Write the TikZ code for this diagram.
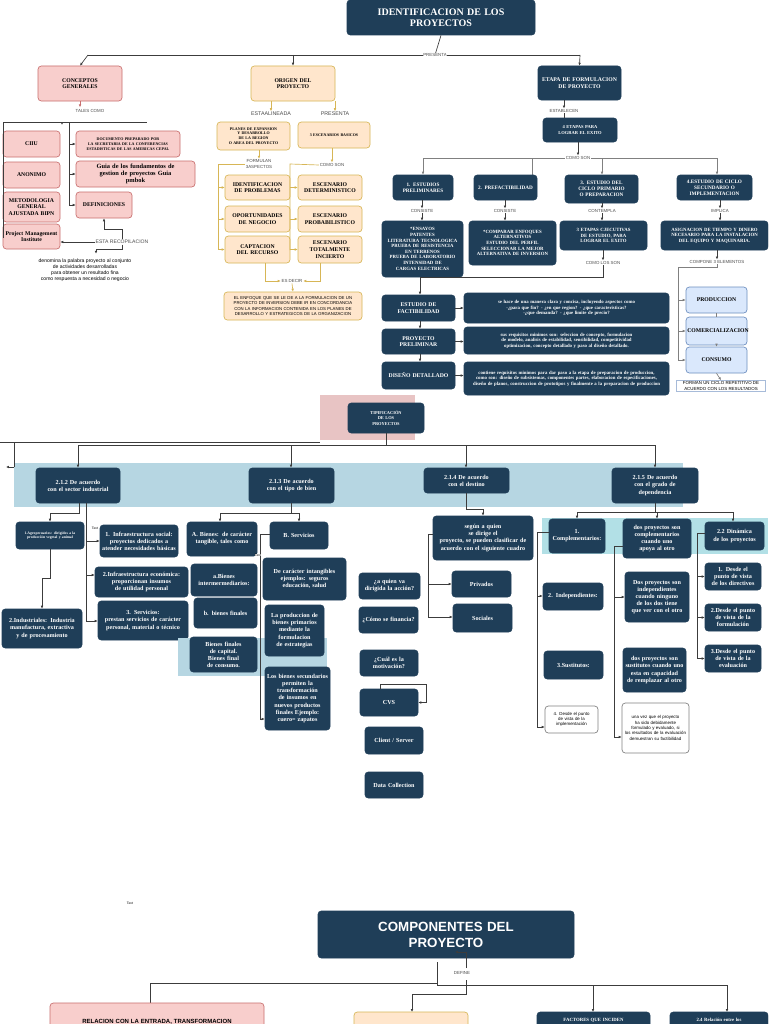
\documentclass[tikz,border=0pt]{standalone}
\usepackage{fontspec}
\setmainfont{Liberation Serif}
\setsansfont{Liberation Sans}
\usetikzlibrary{arrows.meta}
\hyphenpenalty=10000 \exhyphenpenalty=10000
\definecolor{dk}{RGB}{31,62,88}
\definecolor{pkf}{RGB}{248,206,204}
\definecolor{pkd}{RGB}{200,110,110}
\definecolor{pef}{RGB}{255,230,204}
\definecolor{ped}{RGB}{215,182,86}
\definecolor{lbf}{RGB}{218,232,252}
\definecolor{lbd}{RGB}{108,142,191}
\definecolor{band}{RGB}{182,214,226}
\definecolor{teal}{RGB}{178,224,230}
\definecolor{pkbg}{RGB}{232,196,196}
\definecolor{ln}{RGB}{60,60,60}
\definecolor{yl}{RGB}{215,182,86}
\tikzset{
 base/.style={rounded corners=2.5pt, inner sep=1pt, align=center, font=\bfseries\fontsize{4.3}{5}\selectfont, line width=0.5pt},
 dk/.style={base, fill=dk, draw=dk, text=white},
 pk/.style={base, fill=pkf, draw=pkd, text=black},
 pe/.style={base, fill=pef, draw=ped, text=black},
 lb/.style={base, fill=lbf, draw=lbd, text=black},
 wh/.style={base, fill=white, draw=gray, text=black, font=\sffamily\fontsize{3.3}{4}\selectfont},
 lbl/.style={font=\sffamily\fontsize{3.3}{4}\selectfont, text=black!70, inner sep=0.5pt, fill=white},
 arr/.style={-{Latex[length=2.2pt,width=2pt]}, draw=ln, line width=0.5pt},
 ln/.style={draw=ln, line width=0.5pt},
 ya/.style={-{Latex[length=2.2pt,width=2pt]}, draw=yl, line width=0.5pt},
 yn/.style={draw=yl, line width=0.5pt},
 fm/.style={font=\bfseries\fontsize{4.6}{5.3}\selectfont},
 fs/.style={font=\bfseries\fontsize{3.6}{4.2}\selectfont},
 fx/.style={font=\bfseries\fontsize{3.9}{4.6}\selectfont},
}
\newcommand\bx[7]{%
 \pgfmathsetmacro\bxw{(#5-#3)*0.75}\pgfmathsetmacro\bxh{(#6-#4)*0.75}\pgfmathsetmacro\bxt{(#5-#3)*0.75-2}%
 \node[#2, minimum width=\bxw pt, minimum height=\bxh pt, text width=\bxt pt] (#1) at ({(#3+#5)/2},{(#4+#6)/2}) {#7};}
\begin{document}
\begin{tikzpicture}[x=0.75pt,y=-0.75pt]
\useasboundingbox (0,0) rectangle (768,1024);
\clip (0,0) rectangle (768,1024);
\fill[white] (0,0) rectangle (768,1024);
% ---------- top ----------
\bx{t}{dk,font=\bfseries\fontsize{7.5}{8.5}\selectfont}{347}{0}{535}{35}{IDENTIFICACION DE LOS\\PROYECTOS}
\bx{cg}{pk}{38}{66}{122}{101}{CONCEPTOS\\GENERALES}
\bx{op}{pe}{251}{66}{335}{101}{ORIGEN DEL\\PROYECTO}
\bx{ef}{dk}{538}{66}{621}{100}{ETAPA DE FORMULACION\\DE PROYECTO}
\coordinate (pr) at (435,55);
\draw[ln] (t.south) -- (pr);
\draw[ln] (88,55) -- (580,55);
\draw[arr] (88,55) -- (cg.north);
\draw[arr] (293,55) -- (op.north);
\draw[arr] (580,55) -- (ef.north);
\node[lbl] at (435,55) {PRESENTA};
% conceptos generales
\node[lbl] (tc) at (90,111) {TALES COMO};
\draw[arr,draw=pkd] (cg.south) -- ++(0,6);
\draw[ln] (3,122) -- (147,122);
\draw[arr] (62,122) -- ++(0,3);
\bx{c1}{pk}{3}{131}{60}{157}{CIIU}
\bx{c2}{pk}{3}{162}{60}{188}{ANONIMO}
\bx{c3}{pk}{3}{192}{60}{222}{METODOLOGIA GENERAL AJUSTADA BIPN}
\bx{c4}{pk}{3}{224}{60}{249}{Project Management Institute}
\bx{d1}{pk,font=\bfseries\fontsize{3}{3.6}\selectfont}{76}{131}{180}{157}{DOCUMENTO PREPARADO POR\\LA SECRETARIA DE LA CONFERENCIAS\\ESTADISTICAS DE LAS AMERICAS CEPAL}
\bx{d2}{pk,font=\bfseries\fontsize{4.8}{5.5}\selectfont}{76}{161}{195}{187}{Guia de los fundamentos de gestion de proyectos Guia\\pmbok}
\bx{d3}{pk}{76}{192}{132}{218}{DEFINICIONES}
\draw[ln] (3,122) -- (3,238);
\draw[ln] (69,122) -- (69,205);
\foreach \n in {d1,d2,d3} \draw[arr] (69,0 |- \n.west) -- (\n.west);
\node[lbl,font=\sffamily\fontsize{3.8}{4.5}\selectfont] (er) at (122,242) {ESTA RECOPILACION};
\draw[arr] (er.west) -- (c4.east |- er.west);
\draw[arr] (er.north) |- ++(-18,-10) -- (d3.south -| 104,0) ;
\draw[arr] (er.south) |- ++(-26,5) -- ++(0,4);
\node[font=\sffamily\fontsize{3.8}{4.6}\selectfont, align=center, inner sep=0] (dp) at (85,270) {denomina la palabra proyecto  al conjunto\\de actividades desarrolladas\\para obtener un resultado fina\\como respuesta a necesidad o negocio};
% origen
\node[lbl,font=\sffamily\fontsize{4}{4.5}\selectfont] (ea) at (271,114) {ESTAALINEADA};
\node[lbl,font=\sffamily\fontsize{4}{4.5}\selectfont] (pr2) at (335,114) {PRESENTA};
\draw[ya] (271,101) -- (ea.north);
\draw[ya] (335,101) -- (pr2.north);
\bx{o1}{pe,font=\bfseries\fontsize{3}{3.6}\selectfont}{217}{122}{290}{150}{PLANES DE EXPANSION\\Y DESARROLLO\\DE LA REGION\\O AREA DEL PROYECTO}
\bx{o2}{pe,font=\bfseries\fontsize{3}{3.6}\selectfont}{298}{122}{370}{148}{3 ESCENARIOS BASICOS}
\node[lbl,align=center] (fo) at (259,164) {FORMULAN\\3ASPECTOS};
\node[lbl] (cs) at (332,165) {COMO SON};
\draw[ya] (o1.south -| fo.north) -- (fo.north);
\draw[ya] (o2.south -| cs.north) -- (cs.north);
\bx{a1}{pe}{225}{175}{290}{200}{IDENTIFICACION DE PROBLEMAS}
\bx{a2}{pe}{225}{206}{290}{232}{OPORTUNIDADES DE NEGOCIO}
\bx{a3}{pe}{225}{236}{290}{263}{CAPTACION DEL RECURSO}
\bx{e1}{pe}{298}{175}{362}{200}{ESCENARIO DETERMINISTICO}
\bx{e2}{pe}{298}{206}{362}{232}{ESCENARIO PROBABILISTICO}
\bx{e3}{pe}{298}{236}{362}{263}{ESCENARIO TOTALMENTE INCIERTO}
\draw[yn] (fo.west) -- (218,164) -- (218,250);
\draw[yn] (cs.west) -- (290,164) -- (290,250);
\foreach \n in {a1,a2,a3} \draw[ya] (218,0 |- \n.west) -- (\n.west);
\foreach \n in {e1,e2,e3} \draw[ya] (290,0 |- \n.west) -- (\n.west);
\node[lbl] (ed) at (292,281) {ES DECIR};
\draw[ya] (265,263) |- (ed.west);
\draw[ya] (320,263) |- (ed.east);
\bx{ez}{pe,font=\sffamily\fontsize{3.2}{3.9}\selectfont}{224}{292}{362}{320}{EL ENFOQUE QUE SE LE DE A LA FORMULACION DE UN PROYECTO DE INVERSION DEBE IR EN CONCORDANCIA CON LA INFORMACION CONTENIDA EN LOS PLANES DE DESARROLLO Y ESTRATEGICOS DE LA ORGANIZACION}
\draw[ya] (ed.south) -- (ez.north);
% etapa
\node[lbl] (es) at (564,111) {ESTABLECEN};
\draw[arr] (ef.south -| es.north) -- (es.north);
\bx{e4}{dk,font=\bfseries\fontsize{3.4}{4.1}\selectfont}{543}{118}{617}{142}{4 ETAPAS  PARA\\LOGRAR EL EXITO}
\draw[ln] (es.south) -- (e4.north -| es.south);
\node[lbl] (cso) at (578,158) {COMO SON};
\draw[arr] (e4.south -| cso.north) -- (cso.north);
\draw[ln,draw=gray] (423,158) -- (cso.west) (cso.east) -- (717,158);
\draw[ln,draw=gray] (532,158) -- (532,175);
\bx{s1}{dk,fx}{393}{175}{453}{200}{1. ESTUDIOS PRELIMINARES}
\bx{s2}{dk,fx}{474}{175}{537}{200}{2. PREFACTIBILIDAD}
\bx{s3}{dk,fx}{565}{175}{638}{203}{3. ESTUDIO DEL CICLO PRIMARIO O PREPARACION}
\bx{s4}{dk,fx}{677}{175}{752}{200}{4.ESTUDIO DE CICLO SECUNDARIO O IMPLEMENTACION}
\draw[arr,draw=gray] (423,158) -- (s1.north -| 423,0);
\draw[arr,draw=gray] (602,158) -- (s3.north -| 602,0);
\draw[arr,draw=gray] (717,158) -- (s4.north -| 717,0);
\node[lbl] (k1) at (422,211) {CONSISTE};
\node[lbl] (k2) at (505,211) {CONSISTE};
\node[lbl] (k3) at (602,211) {CONTEMPLA};
\node[lbl] (k4) at (720,211) {IMPLICA};
\draw[arr] (s1.south -| k1) -- (k1.north);
\draw[arr] (s2.south -| k2) -- (k2.north);
\draw[arr] (s3.south -| k3) -- (k3.north);
\draw[arr] (s4.south -| k4) -- (k4.north);
\bx{q1}{dk,fs}{382}{221}{463}{277}{*ENSAYOS\\*PATENTES\\*LITERATURA TECNOLOGICA\\*PRUEBA DE RESISTENCIA EN TERRENOS\\*PRUEBA DE LABORATORIO\\*INTENSIDAD DE CARGAS ELECTRICAS}
\bx{q2}{dk,fs}{469}{221}{556}{265}{*COMPARAR ENFOQUES ALTERNATIVOS\\*ESTUDIO DEL PERFIL\\*SELECCIONAR LA MEJOR ALTERNATIVA DE INVERSION}
\bx{q3}{dk,fs}{560}{221}{647}{250}{3 ETAPAS CJECUTIVAS DE ESTUDIO, PARA LOGRAR EL EXITO}
\bx{q4}{dk,fs}{661}{221}{768}{250}{ASIGNACION DE TIEMPO Y DINERO NECESARIO PARA LA INSTALACION DEL EQUIPO Y MAQUINARIA.}
\draw[arr] (k1.south) -- (q1.north -| k1.south);
\draw[arr] (k2.south) -- (q2.north -| k2.south);
\draw[arr] (k3.south) -- (q3.north -| k3.south);
\draw[arr] (k4.south) -- (q4.north -| k4.south);
\node[lbl] (cls) at (603,263) {COMO LOS SON};
\draw[arr] (q3.south -| cls.north) -- (cls.north);
\bx{r1}{dk}{382}{295}{455}{321}{ESTUDIO DE FACTIBILIDAD}
\bx{r2}{dk}{382}{329}{455}{354}{PROYECTO PRELIMINAR}
\bx{r3}{dk}{382}{362}{455}{389}{DISEÑO DETALLADO}
\draw[arr] (cls.south) -- (603,277) -- (420,277) -- (r1.north -| 420,0);
\draw[arr] (r1.south -| 420,0) -- (r2.north -| 420,0);
\draw[arr] (r2.south -| 420,0) -- (r3.north -| 420,0);
\bx{t1}{dk,fs}{464}{293}{669}{323}{se hace de una manera clara y concisa, incluyendo aspectos como\\ -¿para que fin? - ¿en que region? - ¿que caracteristicas?\\ -¿que demanda? - ¿que limite de precio?}
\bx{t2}{dk,fs}{464}{327}{669}{354}{sus requisitos minimos son: seleccion de concepto, formulacion de modelo, analisis de estabilidad, sensibilidad, competitividad optimizacion, concepto detallado y paso al diseño detallado.}
\bx{t3}{dk,fs}{464}{362}{669}{395}{contiene requisitos minimos para dar paso a la etapa de preparacion de produccion, como son: diseño de subsistemas, componentes partes, elaboracion de especificaciones, diseño de planos, construccion de prototipos y finalmente a la preparacion de produccion}
\draw[arr] (r1) -- (t1.west |- r1);
\draw[arr] (r2) -- (t2.west |- r2);
\draw[arr] (r3) -- (t3.west |- r3);
\node[lbl] (c3e) at (717,262) {COMPONE 3 ELEMENTOS};
\draw[arr] (q4.south -| c3e.north) -- (c3e.north);
\bx{l1}{lb}{686}{287}{747}{313}{PRODUCCION}
\bx{l2}{lb}{686}{317}{747}{345}{COMERCIALIZACION}
\bx{l3}{lb}{686}{347}{747}{373}{CONSUMO}
\draw[ln,draw=gray] (c3e.south) -- ++(0,3) -| (678,360);
\foreach \n in {l1,l2,l3} \draw[arr,draw=gray] (678,0 |- \n.west) -- (\n.west);
\draw[ln,draw=gray] (l1.south) -- (l2.north);
\draw[arr,draw=gray] (l2.south) -- (l3.north);
\node[draw=lbd!60, fill=white, font=\sffamily\fontsize{3.3}{4}\selectfont, align=center, inner sep=1pt, minimum width=67pt] (fc) at (721,386) {FORMAN UN CICLO REPETITIVO DE\\ACUERDO CON LOS RESULTADOS};
\draw[arr,draw=gray] (l3.south) -- (fc.north);
% ---------- tipificacion ----------
\fill[pkbg] (320,395) rectangle (415,440);
\bx{tp}{dk,font=\bfseries\fontsize{3.3}{4}\selectfont}{348}{403}{424}{433}{TIPIFICACIÓN\\DE LOS\\PROYECTOS}
\fill[band] (14,463) rectangle (683,507);
\draw[ln] (tp.south) -- (386,445);
\draw[ln] (0,442) -- (320,442);
\draw[ln] (14,442) -- (14,467);
\draw[arr] (14,467) -- (6,467);
\draw[ln] (78,445) -- (655,445);
\bx{g1}{dk,fm}{36}{468}{120}{503}{2.1.2 De acuerdo\\con el sector industrial}
\bx{g2}{dk,fm}{249}{468}{334}{503}{2.1.3  De acuerdo\\con el tipo de bien}
\bx{g3}{dk,fm}{424}{468}{509}{493}{2.1.4  De acuerdo\\con el destino}
\bx{g4}{dk,fm}{612}{468}{698}{503}{2.1.5 De acuerdo\\con el grado de\\dependencia}
\foreach \n/\x in {g1/78,g2/291,g3/466,g4/655} \draw[arr] (\x,445) -- (\n.north -| \x,0);
% 2.1.2
\bx{h1}{dk,font=\bfseries\fontsize{2.8}{3.3}\selectfont}{16}{522}{84}{549}{1.Agropecuarios: dirigidos a la producción vegetal y animal}
\bx{h2}{dk,fm}{2}{609}{82}{648}{2.Industriales: Industria manufactura, extractiva y de procesamiento}
\bx{h3}{dk,fm}{100}{525}{178}{557}{1. Infraestructura social: proyectos dedicados a atender necesidades básicas}
\bx{h4}{dk,fm}{95}{567}{188}{597}{2.Infraestructura económica: proporcionan insumos de utilidad personal}
\bx{h5}{dk,fm}{98}{601}{188}{640}{3. Servicios:\\prestan servicios de carácter personal, material o técnico}
\draw[arr] (79,503) |- (50,513) -- (h1.north -| 50,0);
\draw[ln] (86,503) -- (86,621);
\draw[arr] (86,541) -- (h3.west |- 0,541);
\draw[arr] (86,575) -- (h4.west |- 0,575);
\draw[arr] (86,621) -- (h5.west |- 0,621);
\draw[arr] (h1.south -| 50,0) -- (50,578) -- (42,578) -- (h2.north -| 42,0);
\node[font=\sffamily\fontsize{2.5}{3}\selectfont, inner sep=0] at (95,528) {Text};
% 2.1.3
\fill[band] (178,638) rectangle (327,676);
\bx{i1}{dk,fm}{187}{522}{257}{556}{A. Bienes: de carácter tangible, tales como}
\bx{i2}{dk,fm}{270}{522}{328}{549}{B. Servicios}
\bx{i3}{dk,fm}{191}{564}{257}{596}{a.Bienes intermermediarios:}
\bx{i4}{dk,fm}{194}{598}{257}{628}{b. bienes finales}
\bx{i5}{dk,fm}{190}{637}{257}{672}{Bienes finales de capital.\\Bienes final\\de consumo.}
\bx{i6}{dk,fm}{263}{558}{346}{600}{De carácter intangibles ejemplos: seguros educación, salud}
\bx{i7}{dk,fm}{265}{605}{324}{656}{La produccion de bienes primarios mediante la formulacion de estrategias}
\bx{i8}{dk,fm}{265}{667}{330}{730}{Los bienes secundarios permiten la transformación de insumos en nuevos productos finales Ejemplo: cuero= zapatos}
\draw[ln] (291,503) -- (291,513);
\draw[arr] (220,513) -- (i1.north -| 220,0);
\draw[arr] (220,513) -- (299,513) -- (i2.north -| 299,0);
\draw[arr] (i2.west) ++(0,-1) -| (260,719) -- (i8.west |- 0,719);
\node[font=\sffamily\fontsize{2.5}{3}\selectfont, inner sep=0, fill=white] at (258,555) {Text};
% 2.1.4
\bx{j1}{dk,fm}{433}{516}{533}{560}{según a quien\\se dirige el\\proyecto, se pueden clasificar de acuerdo con el siguiente cuadro}
\bx{j2}{dk,fm}{452}{571}{511}{597}{Privados}
\bx{j3}{dk,fm}{453}{604}{512}{632}{Sociales}
\bx{j4}{dk,fm}{359}{573}{420}{599}{¿a quien va dirigida la acción?}
\bx{j5}{dk,fm}{359}{607}{418}{633}{¿Cómo se financia?}
\bx{j6}{dk,fm}{360}{650}{418}{676}{¿Cuál es la motivación?}
\bx{j7}{dk,fm}{360}{689}{418}{716}{CVS}
\bx{j8}{dk,fm}{365}{727}{423}{754}{Client / Server}
\bx{j9}{dk,fm}{365}{772}{423}{798}{Data Collection}
\draw[arr] (466,493) |- (483,509) -- (j1.north -| 483,0);
\draw[ln] (j1.west) ++(0,-4) -- (428,534) -- (428,617);
\draw[arr] (428,584) -- (j2.west |- 0,584);
\draw[arr] (428,617) -- (j3.west |- 0,617);
\draw[arr] (j7.north -| 380,0) |- (426,684) |- (j7.east);
% 2.1.5
\fill[teal] (542,518) rectangle (768,554);
\bx{m1}{dk,fm}{549}{519}{605}{553}{1. Complementarios:}
\bx{m2}{dk,fm}{623}{519}{691}{558}{dos proyectos son complementarios cuando uno apoya al otro}
\bx{m3}{dk,fm}{705}{522}{764}{550}{2.2 Dinámica de los proyectos}
\bx{m4}{dk,fm}{543}{583}{603}{610}{2. Independientes:}
\bx{m5}{dk,fm}{625}{572}{689}{622}{Dos proyectos son independientes cuando ninguno de los dos tiene que ver con el otro}
\bx{m6}{dk,fm}{544}{651}{603}{679}{3.Sustitutos:}
\bx{m7}{dk,fm}{623}{648}{686}{692}{dos proyectos son sustitutos cuando uno esta en capacidad de remplazar al otro}
\bx{m8}{wh}{545}{706}{598}{733}{4. Desde el punto de vista de la implementación}
\bx{m9}{wh}{622}{703}{689}{753}{una vez que el proyecto ha sido debidamente formulado y evaluado, si los resultados de la evaluación demuestran su factibilidad}
\bx{n1}{dk,fm}{705}{563}{761}{590}{1. Desde el punto de vista de los directivos}
\bx{n2}{dk,fm}{705}{604}{761}{631}{2.Desde el punto de vista de la formulación}
\bx{n3}{dk,fm}{705}{645}{761}{672}{3.Desde el punto de vista de la evaluación}
\draw[ln] (655,503) -- (655,512);
\draw[arr] (577,512) -- (m1.north -| 577,0);
\draw[arr] (577,512) -- (733,512) -- (m3.north -| 733,0);
\draw[arr] (657,512) -- (m2.north -| 657,0);
\draw[arr] (m1.west) ++(0,-4) -| (537,727) -- (m8.west |- 0,727);
\draw[arr] (537,596) -- (m4.west |- 0,596);
\draw[arr] (m2.west) ++(0,8) -| (614,737) -- (m9.west |- 0,737);
\draw[arr] (614,597) -- (m5.west |- 0,597);
\draw[ln] (m3.west) ++(0,-3) -| (697,659);
\foreach \n in {n1,n2,n3} \draw[arr] (697,0 |- \n.west) -- (\n.west);
% ---------- componentes ----------
\node[font=\sffamily\fontsize{2.5}{3}\selectfont, inner sep=0] at (130,903) {Text};
\bx{cp}{dk,font=\bfseries\sffamily\fontsize{10}{12}\selectfont}{318}{911}{574}{958}{COMPONENTES DEL\\PROYECTO}
\node[lbl] (df) at (462,973) {DEFINE};
\draw[arr] (466,968) -- (466,952) -- (455,952);
\draw[ln] (437,962) -- (437,985);
\draw[ln] (150,983) -- (437,983);
\draw[ln] (150,983) -- (150,1003);
\draw[ln] (437,985) -- (727,985);
\draw[arr] (593,985) -- (593,1012);
\draw[arr] (727,985) -- (727,1012);
\draw[arr] (466,980) -- (466,994) -- (412,994) -- (412,1012);
\bx{b1}{pk,font=\bfseries\sffamily\fontsize{4.5}{5.5}\selectfont}{50}{1003}{264}{1040}{RELACION CON LA ENTRADA, TRANSFORMACION}
\bx{b2}{pe}{354}{1012}{468}{1040}{}
\bx{b3}{dk,font=\bfseries\fontsize{3.6}{4}\selectfont}{537}{1012}{650}{1028}{FACTORES QUE INCIDEN}
\bx{b4}{dk,font=\bfseries\fontsize{3.6}{4}\selectfont}{670}{1012}{768}{1028}{2.4 Relación entre los}
\end{tikzpicture}
\end{document}
